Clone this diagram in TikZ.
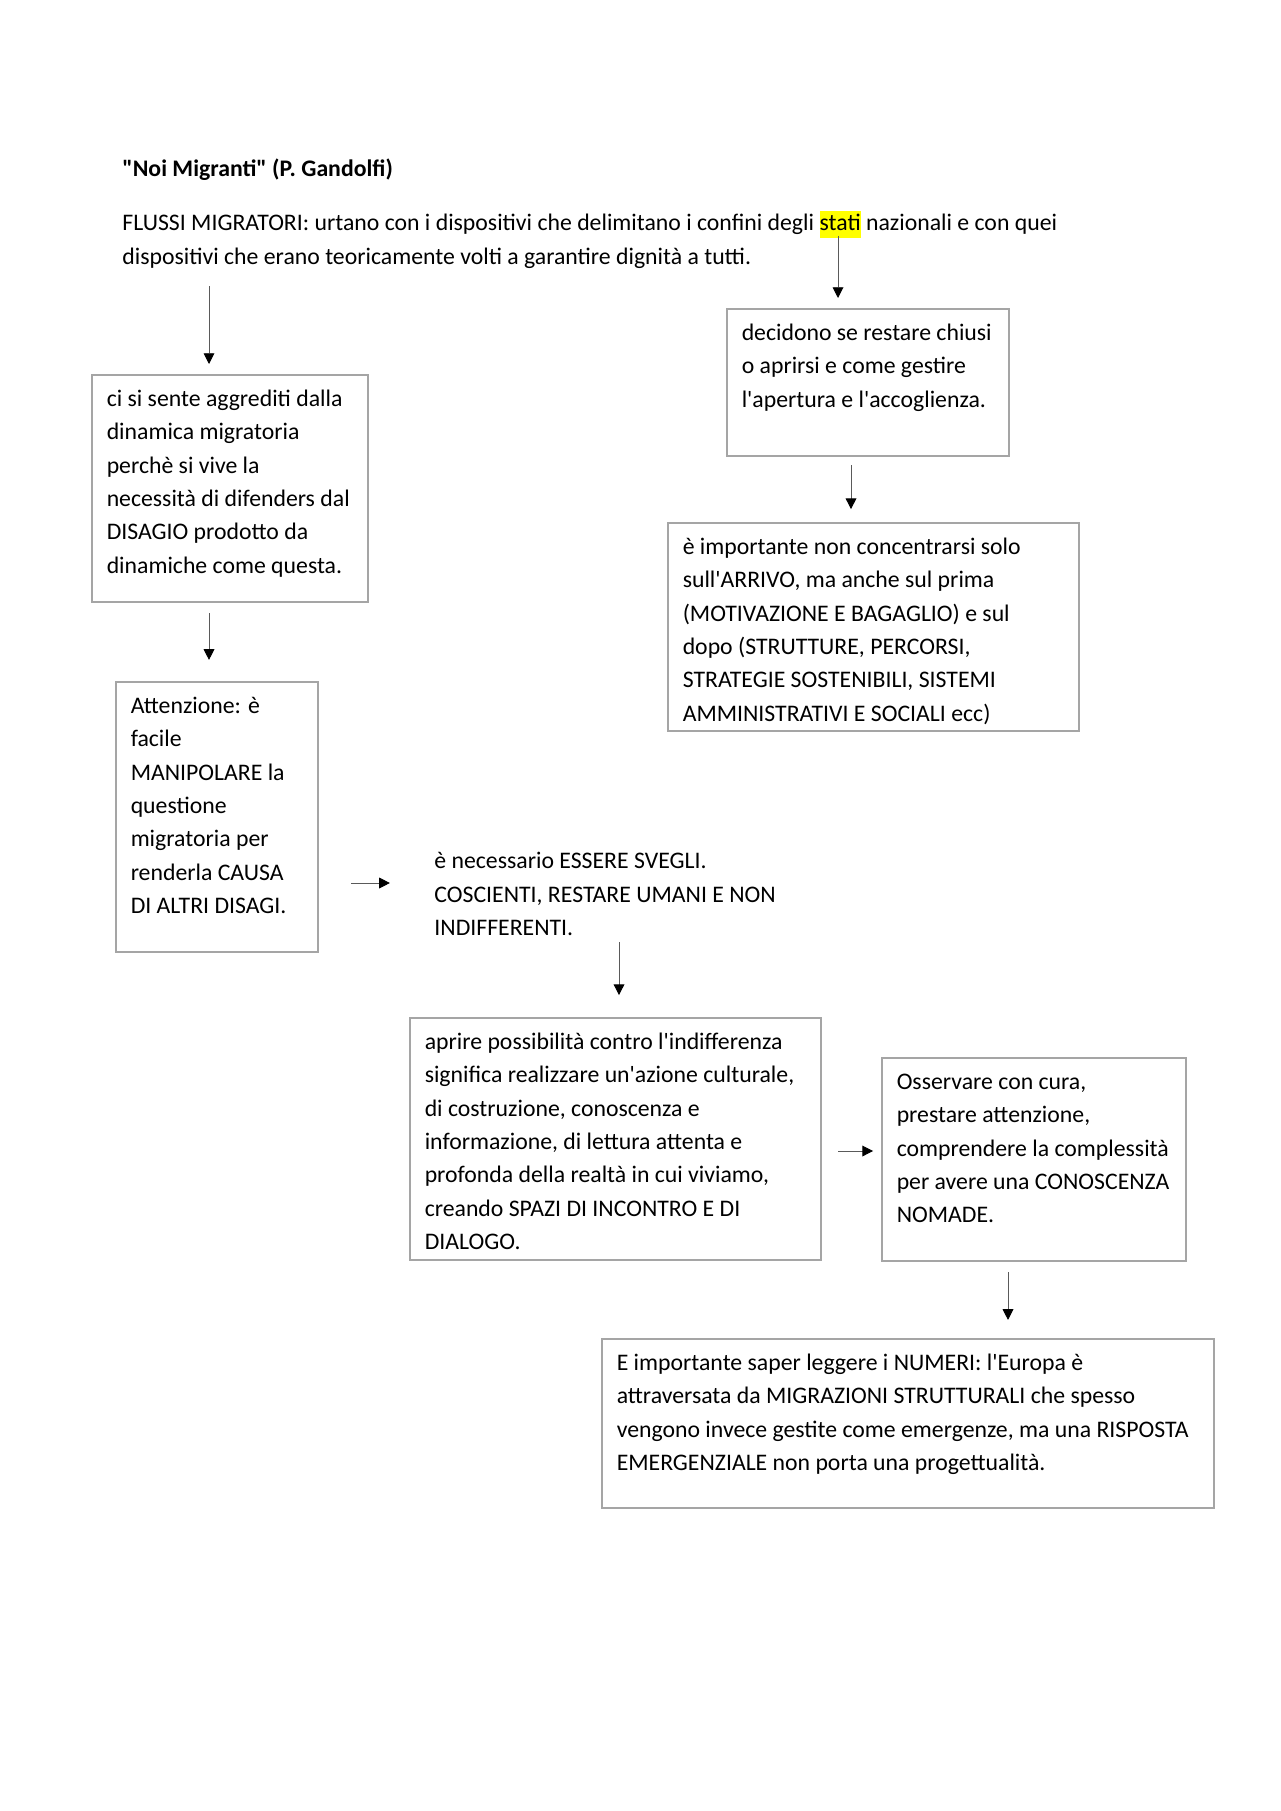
\documentclass[tikz,border=0pt]{standalone}
\usepackage{fontspec}
\newfontfamily\carl{Carlito}
\usetikzlibrary{arrows.meta}
\newdimen\pxu \pxu=0.46506pt
\definecolor{boxgray}{RGB}{165,165,165}
\definecolor{argray}{RGB}{90,90,90}
\definecolor{hlyellow}{RGB}{255,255,0}
\setlength\fboxsep{0pt}
\newcommand\boxtext[3]{\parbox[t][#2\pxu][t]{#1\pxu}{\raggedright\leftskip=15\pxu\relax\rule{0pt}{14.8pt}#3}}
\newcommand\plaintext[2]{\parbox[t]{#1\pxu}{\raggedright\rule{0pt}{10pt}#2}}
\tikzset{
  txt/.style={inner sep=0pt, anchor=north west, font=\carl\fontsize{11.05}{15.5}\selectfont, text=black},
  tbox/.style={txt, draw=boxgray, line width=0.7pt},
  arr/.style={draw=argray, line width=0.45pt, -{Triangle[length=5pt,width=5pt,color=black]}}
}
\begin{document}
\begin{tikzpicture}[x=0.46506pt,y=-0.46506pt]
\useasboundingbox (0,0) rectangle (1280,1811);
\fill[white] (0,0) rectangle (1280,1811);

\node[txt] (title) at (122,154.7) {\plaintext{600}{\bfseries "Noi Migranti" (P. Gandolfi)}};
\node[txt] (intro) at (122,208.8) {\plaintext{1040}{FLUSSI MIGRATORI: urtano con i dispositivi che delimitano i confini degli \colorbox{hlyellow}{\rule[-3.3pt]{0pt}{12.6pt}stati} nazionali e con quei\\
dispositivi che erano teoricamente volti a garantire dignità a tutti.}};

\node[tbox] (A) at (91,374) {\boxtext{276}{227}{ci si sente aggrediti dalla\\ dinamica migratoria\\ perchè si vive la\\ necessità di difenders dal\\ DISAGIO prodotto da\\ dinamiche come questa.}};

\node[tbox] (B) at (726,308) {\boxtext{282}{147}{decidono se restare chiusi\\ o aprirsi e come gestire\\ l'apertura e l'accoglienza.}};

\node[tbox] (C) at (667,522) {\boxtext{411}{208}{è importante non concentrarsi solo\\ sull'ARRIVO, ma anche sul prima\\ (MOTIVAZIONE E BAGAGLIO) e sul\\ dopo (STRUTTURE, PERCORSI,\\ STRATEGIE SOSTENIBILI, SISTEMI\\ AMMINISTRATIVI E SOCIALI ecc)}};

\node[tbox] (D) at (115,681) {\boxtext{202}{270}{Attenzione: è\\ facile\\ MANIPOLARE la\\ questione\\ migratoria per\\ renderla CAUSA\\ DI ALTRI DISAGI.}};

\node[txt] (free) at (434,847) {\plaintext{400}{è necessario ESSERE SVEGLI.\\ COSCIENTI, RESTARE UMANI E NON\\ INDIFFERENTI.}};

\node[tbox] (E) at (409,1017) {\boxtext{411}{242}{aprire possibilità contro l'indifferenza\\ significa realizzare un'azione culturale,\\ di costruzione, conoscenza e\\ informazione, di lettura attenta e\\ profonda della realtà in cui viviamo,\\ creando SPAZI DI INCONTRO E DI\\ DIALOGO.}};

\node[tbox] (F) at (881,1057) {\boxtext{304}{203}{Osservare con cura,\\ prestare attenzione,\\ comprendere la complessità\\ per avere una CONOSCENZA\\ NOMADE.}};

\node[tbox] (G) at (601,1338) {\boxtext{612}{169}{E importante saper leggere i NUMERI: l'Europa è\\ attraversata da MIGRAZIONI STRUTTURALI che spesso\\ vengono invece gestite come emergenze, ma una RISPOSTA\\ EMERGENZIALE non porta una progettualità.}};

\coordinate (s1) at (209,286);
\coordinate (s2) at (838,236);
\coordinate (s3) at (851,465);
\coordinate (s4) at (209,613);
\coordinate (s5) at (351,883);
\coordinate (s6) at (619,942);
\coordinate (s7) at (838,1151);
\coordinate (s8) at (1008,1272);

\draw[arr, shorten >=4.65pt] (s1) -- (s1 |- A.north);
\draw[arr, shorten >=4.65pt] (s2) -- (s2 |- B.north);
\draw[arr, shorten >=6pt] (s3) -- (s3 |- C.north);
\draw[arr, shorten >=9.8pt] (s4) -- (s4 |- D.north);
\draw[arr, shorten >=20.5pt] (s5) -- (s5 -| free.west);
\draw[arr, shorten >=10.2pt] (s6) -- (s6 |- E.north);
\draw[arr, shorten >=3.7pt] (s7) -- (s7 -| F.west);
\draw[arr, shorten >=8.4pt] (s8) -- (s8 |- G.north);
\end{tikzpicture}
\end{document}
